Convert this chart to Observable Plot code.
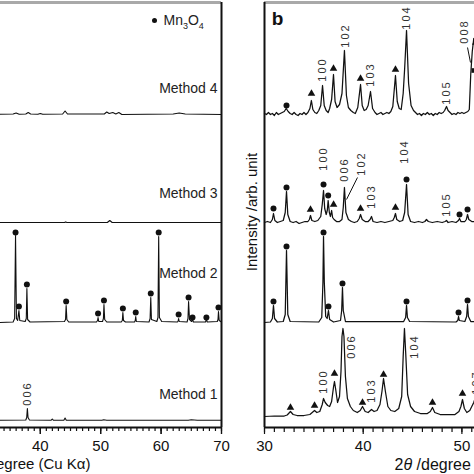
<!DOCTYPE html>
<html><head><meta charset="utf-8">
<script src="https://cdn.jsdelivr.net/npm/d3@7"></script>
<script src="https://cdn.jsdelivr.net/npm/@observablehq/plot@0.6"></script>
<style>
body{margin:0;background:#fff;}
#wrap{position:relative;width:474px;height:474px;overflow:hidden;background:#fff;}
#wrap svg{position:absolute;top:0;max-width:none;}
</style></head><body><div id="wrap"></div>
<script>
// ---------- data (2θ in degrees, intensity in arbitrary units above each trace baseline) ----------
const methods = ["Method 1", "Method 2", "Method 3", "Method 4"];
const offsetsLeft = [7, 105, 205, 313];
const offsetsRight = [11, 105, 205, 314];
const methodLabelLevels = [29, 150, 230, 335];

const leftM1 = [[30,0],[37.6,0.5],[37.75,3],[37.86,12],[37.97,3],[38.2,0.5],[41.8,0.3],[41.98,1.5],[42.15,0.3],[43.9,0.3],[44.1,2.5],[44.3,0.3],[50.2,0.3],[50.5,0.8],[51,0.3],[64.5,0.3],[65,0.8],[66,0.3],[70,0.2]];
const leftM2 = [[30,0],[33,0],[35.5,0.5],[35.75,4],[35.9,87],[36.05,4],[36.25,2],[36.46,12],[36.6,2],[37.5,1],[37.68,4],[37.78,34],[37.9,3],[38.3,0.5],[44.0,1],[44.18,3],[44.28,17],[44.4,3],[44.7,0.5],[49.3,0.5],[49.48,2],[49.56,5],[49.68,1],[50.3,1],[50.45,4],[50.54,18],[50.66,3],[51.0,0.5],[53.4,0.5],[53.58,2],[53.67,10],[53.78,2],[54.1,0.5],[55.6,0.5],[55.72,2],[55.8,6],[55.9,1],[58.0,0.5],[58.18,4],[58.29,25],[58.4,3],[59.3,1],[59.48,5],[59.6,86],[59.72,5],[60.1,1],[62.7,0.5],[62.82,1.5],[62.9,4],[63.0,1],[64.3,0.5],[64.45,4],[64.55,21],[64.7,3],[65.05,1],[65.2,3],[65.35,0.5],[67.35,0.5],[67.5,3],[67.65,0.5],[69.3,1],[69.42,3],[69.5,11],[69.62,2],[70,0.5]];
const leftM3 = [[30,0],[44.0,0],[44.2,0.6],[44.4,0],[51.1,0],[51.5,2],[51.9,0],[70,0]];
const leftM4 = [[30,0],[35.5,0.5],[36,1.5],[36.5,0.3],[37.6,0.5],[38,2],[38.4,0.5],[39.6,0.3],[40,1],[40.4,0.2],[43.7,0.5],[44.1,3.5],[44.5,0.5],[50.6,0.5],[51,2.5],[51.4,1],[52,2],[52.5,0.5],[53,2],[53.5,0],[62,0.5],[63,1.5],[64,0.5],[70,0]];

const rightM1 = [[30,0],[31,0.5],[32,0.5],[32.3,1.5],[32.63,5],[32.9,2],[33.3,1],[34,1],[34.6,2],[35.07,6],[35.3,4],[35.6,5],[35.85,12],[35.98,18],[36.15,14],[36.4,11],[36.6,10],[36.8,15],[37.0,30],[37.09,35],[37.2,28],[37.4,14],[37.6,20],[37.75,45],[37.85,80],[37.95,88],[38.05,80],[38.2,40],[38.4,18],[38.7,10],[39.0,6],[39.4,4],[39.7,6],[39.93,10],[40.2,5],[40.5,4],[40.84,7],[41.1,5],[41.4,6],[41.7,12],[41.9,25],[42.06,38],[42.25,25],[42.5,10],[42.8,6],[43.2,5],[43.6,8],[43.9,20],[44.05,60],[44.18,88],[44.3,65],[44.5,22],[44.8,10],[45.2,5],[45.8,3],[46.5,3],[46.8,5],[47.02,9],[47.25,4],[47.8,2],[48.5,2],[49.3,2],[49.7,5],[49.9,10],[50.06,17],[50.25,8],[50.5,4],[50.8,6],[51.0,10],[51.2,14],[51.4,20],[51.6,26]];
const rightM2 = [[30,0],[30.6,0.5],[30.8,4],[30.91,17],[31.02,4],[31.3,0.5],[31.9,1],[32.1,8],[32.23,72],[32.36,8],[32.6,1],[35.5,0.5],[35.8,5],[35.92,40],[35.98,86],[36.06,40],[36.2,6],[36.35,4],[36.48,12],[36.6,3],[37.0,0.5],[37.7,2],[37.82,12],[37.9,35],[37.98,12],[38.2,1],[44.1,1],[44.3,5],[44.39,17],[44.48,5],[44.7,1],[49.4,0.5],[49.58,2],[49.66,6],[49.74,2],[50.3,1],[50.48,6],[50.57,18],[50.66,6],[50.9,1],[51.5,1],[55,0]];
const rightM3 = [[30,0],[30.3,1],[30.6,0],[30.8,3],[30.91,9],[31.05,2],[31.3,0],[31.6,1],[31.9,2],[32.1,10],[32.23,31],[32.36,8],[32.6,1],[32.9,0],[33.2,1],[33.5,-1],[33.8,0],[34.1,1],[34.4,1],[34.55,3],[34.66,7],[34.8,2],[35.1,1],[35.4,2],[35.7,6],[35.85,18],[35.98,32],[36.1,14],[36.25,8],[36.36,12],[36.45,22],[36.57,10],[36.68,6],[36.8,12],[36.9,5],[37.05,3],[37.3,1],[37.6,1],[37.85,3],[37.98,15],[38.1,35],[38.25,10],[38.5,3],[38.8,1],[39.1,0],[39.4,1],[39.6,4],[39.73,8],[39.9,3],[40.2,1],[40.5,1],[40.7,3],[40.84,6],[41.0,1],[41.4,0],[41.8,1],[42.2,0],[42.6,1],[43.0,2],[43.15,5],[43.27,9],[43.4,3],[43.7,1],[44.0,2],[44.2,10],[44.39,38],[44.55,8],[44.8,1],[45.2,0],[45.6,1],[46.0,0],[46.25,1],[46.41,3],[46.6,1],[47.0,0],[47.5,1],[48.0,0],[48.3,1],[48.44,2],[48.6,0],[49.0,1],[49.4,0],[49.65,2],[49.76,4],[49.9,1],[50.3,1],[50.45,3],[50.57,8],[50.7,3],[51.0,1],[51.4,1],[55,0]];
const rightM4 = [[30.0,0],[30.2,-1],[30.4,1],[30.6,-1],[30.8,0],[31.0,-2],[31.2,1],[31.4,-1],[31.6,0],[31.8,1],[32.0,2],[32.2,5],[32.4,2],[32.6,0],[32.8,-1],[33.0,1],[33.2,-1],[33.4,-2],[33.6,0],[33.8,-1],[34.0,1],[34.2,-1],[34.4,1],[34.6,5],[34.75,13],[34.9,4],[35.1,1],[35.3,0],[35.5,3],[35.7,8],[35.88,28],[36.05,8],[36.25,3],[36.45,1],[36.6,5],[36.8,14],[36.99,39],[37.15,12],[37.35,6],[37.6,9],[37.85,20],[38.1,63],[38.3,18],[38.5,6],[38.75,3],[39.0,1],[39.2,0],[39.45,6],[39.73,29],[39.9,8],[40.1,3],[40.3,4],[40.5,8],[40.74,22],[40.95,5],[41.2,1],[41.4,-1],[41.6,0],[41.8,1],[42.0,-1],[42.2,0],[42.4,1],[42.6,0],[42.8,2],[43.0,7],[43.27,38],[43.45,12],[43.65,5],[43.85,4],[44.05,20],[44.2,45],[44.39,83],[44.6,30],[44.85,8],[45.1,3],[45.3,1],[45.5,-1],[45.7,0],[45.9,-2],[46.1,0],[46.3,-1],[46.5,1],[46.7,-1],[46.9,0],[47.1,-2],[47.3,0],[47.5,-1],[47.7,1],[47.9,0],[48.1,1],[48.25,3],[48.44,7],[48.6,3],[48.8,1],[49.0,-1],[49.2,0],[49.4,-1],[49.6,1],[49.8,0],[50.0,1],[50.2,0],[50.4,1],[50.6,2],[50.75,4],[50.9,40],[51.05,62],[51.2,75],[51.4,70]];

// markers: [2θ, absolute level]
const leftDots = [[35.9,195],[36.46,121],[37.78,143],[44.28,126],[49.56,114],[50.54,127],[53.67,119],[55.8,115],[58.29,134],[59.6,195],[62.9,113],[64.55,130],[65.2,110],[67.5,110],[69.5,120]];
const rightDots = [[32.23,322],
  [30.91,219],[32.23,240],[35.98,243],[36.45,232],[44.39,248],[49.76,213],[50.57,218],
  [30.91,126],[32.23,181],[35.98,195],[36.48,121],[37.9,144],[44.39,126],[49.66,115],[50.57,127]];
const rightTriangles = [[34.76,334],[36.99,359],[39.73,349],[43.27,358],[51.4,385],
  [34.66,218],[37.0,223],[39.73,219],[43.27,220],
  [32.63,20],[35.07,22],[37.09,54],[39.93,25],[42.06,53],[47.02,25],[50.06,34]];
const rightSquares = [[51.2,357]];

// peak index labels
const leftHkl = [{t:"006", x:37.86, y:34}];
const rightHkl = [
  {t:"100", x:35.88, y:358}, {t:"102", x:38.2, y:392}, {t:"103", x:40.74, y:353}, {t:"104", x:44.34, y:410}, {t:"105", x:48.44, y:335}, {t:"008", x:50.27, y:396},
  {t:"100", x:35.98, y:269}, {t:"006", x:38.1, y:258}, {t:"102", x:39.83, y:264}, {t:"103", x:40.84, y:231}, {t:"104", x:44.18, y:276}, {t:"105", x:48.44, y:223},
  {t:"100", x:35.98, y:46}, {t:"006", x:38.81, y:81}, {t:"103", x:40.84, y:37}, {t:"104", x:45.2, y:81}, {t:"107", x:51.5, y:45}
];
const rightLeaders = [[38.31,228,39.42,250],[50.57,380,50.87,365]];

const majorLeft = [30,40,50,60,70];
const labelledLeft = [40,50,60,70];
const minorLeft = d3.range(30,71,1);
const majorRight = [30,40,50];
const minorRight = d3.range(30,56,1);

// ---------- drawing ----------
const FONT = "'Liberation Sans', Arial, Helvetica, sans-serif";
const INK = "#111";
const wrap = document.getElementById("wrap");
const yScale = {domain:[0,425], axis:null};

function traceMarks(traces, offsets, sw) {
  return traces.map((t,i) => Plot.line(t, {x: d=>d[0], y: d=>d[1]+offsets[i], stroke: INK, strokeWidth: sw}));
}
function hklMarks(list) {
  return Plot.text(list, {x:"x", y:"y", text:"t", rotate:-90, fontSize:11, fill:"#333", textAnchor:"middle", lineAnchor:"middle"});
}

const left = Plot.plot({
  width: 294, height: 474,
  marginLeft: 39.4, marginRight: 13, marginTop: 2, marginBottom: 47,
  x: {domain:[30,70], label:null},
  y: yScale,
  style: {fontFamily: FONT, fontSize: "15px", background: "transparent", overflow: "visible"},
  marks: [
    ...traceMarks([leftM1,leftM2,leftM3,leftM4], offsetsLeft, 1.1),
    Plot.dot(leftDots, {x:d=>d[0], y:d=>d[1], r:3, fill:INK}),
    hklMarks(leftHkl),
    Plot.text(methods, {y:(d,i)=>methodLabelLevels[i], text:d=>d, frameAnchor:"right", dx:-4, textAnchor:"end", lineAnchor:"bottom", fontSize:14, fill:"#222"}),
    Plot.dot(["Mn3O4"], {frameAnchor:"top-right", dx:-67, dy:18, r:2.5, fill:INK}),
    Plot.text(["Mn3O4"], {frameAnchor:"top-right", dx:-58, dy:22, text:d=>d, textAnchor:"start", lineAnchor:"bottom", fontSize:14, fill:"#222"}),
    Plot.axisX({ticks: minorLeft, tickSize: 4, tickFormat: () => "", stroke: INK, strokeWidth: 1.2}),
    Plot.axisX({ticks: majorLeft, tickSize: 7, tickFormat: () => "", stroke: INK, strokeWidth: 1.2}),
    Plot.axisX({ticks: labelledLeft, tickSize: 7, tickPadding: 6, stroke: INK, strokeWidth: 1.2, fill: "#111"}),
    Plot.text(["2θ /degree (Cu Kα)"], {frameAnchor:"bottom-left", dx:110.6, dy:41, text:d=>d, textAnchor:"end", lineAnchor:"bottom", fontSize:15, fill:"#111"}),
    Plot.ruleY([425], {stroke:"#a9a9a9", strokeWidth:3}),
    Plot.ruleY([0], {stroke:INK, strokeWidth:2}),
    Plot.ruleX([70], {stroke:INK, strokeWidth:2})
  ]
});
left.style.left = "-60px";
wrap.appendChild(left);

const right = Plot.plot({
  width: 300, height: 474,
  marginLeft: 30, marginRight: 23.25, marginTop: 2, marginBottom: 47,
  x: {domain:[30,55], label:null},
  y: yScale,
  style: {fontFamily: FONT, fontSize: "15px", background: "transparent", overflow: "visible"},
  marks: [
    ...traceMarks([rightM1,rightM2,rightM3,rightM4], offsetsRight, 1.25),
    Plot.dot(rightDots, {x:d=>d[0], y:d=>d[1], r:3, fill:INK}),
    Plot.dot(rightTriangles, {x:d=>d[0], y:d=>d[1], r:2.8, symbol:"triangle", fill:INK}),
    Plot.dot(rightSquares, {x:d=>d[0], y:d=>d[1], r:2.6, symbol:"square", fill:INK}),
    Plot.link(rightLeaders, {x1:d=>d[0], y1:d=>d[1], x2:d=>d[2], y2:d=>d[3], stroke:INK, strokeWidth:1}),
    hklMarks(rightHkl),
    Plot.text(["b"], {frameAnchor:"top-left", dx:13, dy:22, text:d=>d, textAnchor:"middle", lineAnchor:"bottom", fontSize:19, fontWeight:"bold", fill:"#111"}),
    Plot.text(["Intensity /arb. unit"], {frameAnchor:"left", dx:-8, dy:-3, text:d=>d, rotate:-90, textAnchor:"middle", lineAnchor:"bottom", fontSize:15, fill:"#111"}),
    Plot.axisX({ticks: minorRight, tickSize: 5, tickFormat: () => "", stroke: INK, strokeWidth: 1.2}),
    Plot.axisX({ticks: majorRight, tickSize: 7, tickPadding: 6, stroke: INK, strokeWidth: 1.2, fill: "#111"}),
    Plot.text(["2θ /degree"], {frameAnchor:"bottom-left", dx:130, dy:42, text:d=>d, textAnchor:"start", lineAnchor:"bottom", fontSize:16, fill:"#111"}),
    Plot.ruleY([425], {stroke:"#a9a9a9", strokeWidth:3}),
    Plot.ruleY([0], {stroke:INK, strokeWidth:2}),
    Plot.ruleX([30], {stroke:INK, strokeWidth:2})
  ]
});
right.style.left = "234px";
wrap.appendChild(right);

// rich text tweaks: subscripts, italic theta, spaced index digits
d3.select(wrap).selectAll("text").each(function() {
  const s = this.textContent;
  const sel = d3.select(this);
  if (s === "Mn3O4") {
    sel.html('Mn<tspan dy="4" font-size="9">3</tspan><tspan dy="-4">O</tspan><tspan dy="4" font-size="9">4</tspan>');
  } else if (s.startsWith("2θ /degree")) {
    sel.html('2<tspan font-style="italic">θ</tspan>' + s.slice(2));
  } else if (/^\d{3}$/.test(s)) {
    sel.attr("letter-spacing", "2px");
  }
});
</script></body></html>
